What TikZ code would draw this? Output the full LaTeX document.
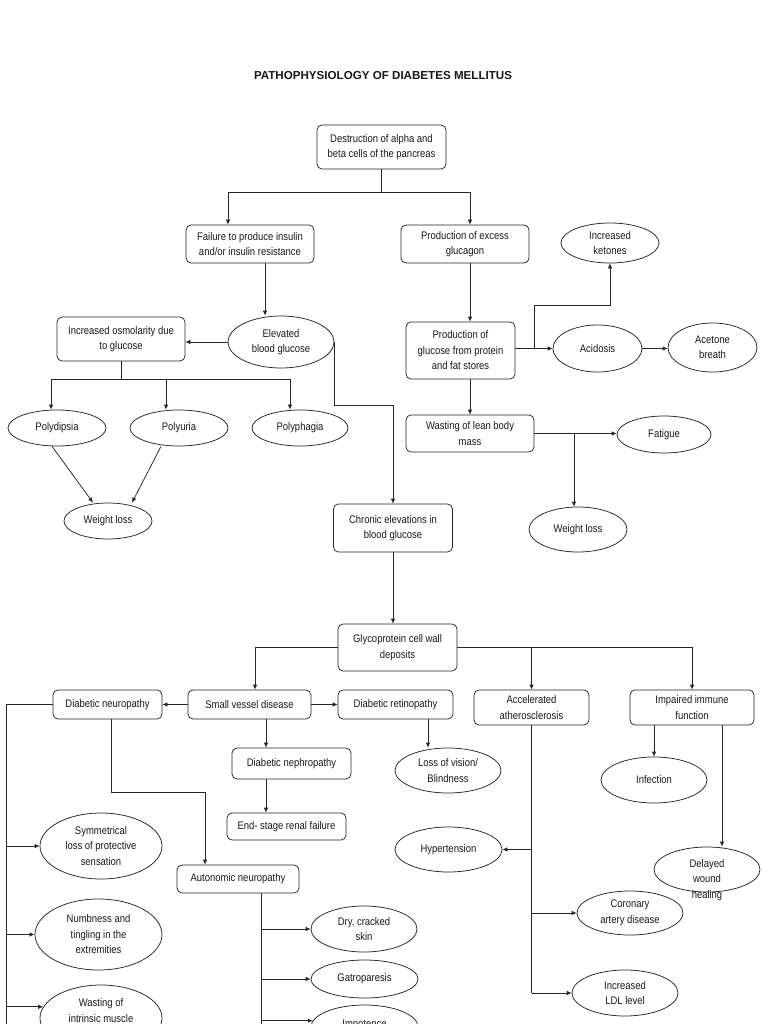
\documentclass[tikz,border=0pt]{standalone}
\usepackage{fontspec}
\setmainfont{Liberation Sans}[FakeStretch=0.86]
\newfontfamily\titlefont{Liberation Sans}
\usetikzlibrary{shapes.geometric,arrows.meta,calc}
\begin{document}
\begin{tikzpicture}[x=1pt,y=-1pt,
  every node/.style={text=black!90},
  txt/.style={font=\fontsize{11}{15.5}\selectfont, align=center},
  box/.style={txt, draw=black!85, line width=0.75pt, rounded corners=5pt, inner sep=2pt},
  ell/.style={txt, draw=black!85, line width=0.75pt, ellipse, inner sep=-4pt},
  ln/.style={draw=black!85, line width=0.75pt},
  arr/.style={ln, -{Latex[length=5pt,width=4.5pt]}}
]
\useasboundingbox (0,0) rectangle (768,1024);
\fill[white] (0,0) rectangle (768,1024);

\node[font=\titlefont\fontsize{11.6}{14}\selectfont\bfseries] (title) at (383,76) {PATHOPHYSIOLOGY OF DIABETES MELLITUS};

% boxes
\node[box, minimum width=129, minimum height=44] (n1) at (381.5,147) {Destruction of alpha and\\beta cells of the pancreas};
\node[box, minimum width=128, minimum height=38] (n2) at (250,244) {Failure to produce insulin\\and/or insulin resistance};
\node[box, minimum width=128, minimum height=38] (n3) at (465,244) {Production of excess\\glucagon};
\node[ell, minimum width=106, minimum height=52] (elev) at (281,342) {Elevated\\blood glucose};
\node[box, minimum width=128, minimum height=44] (n4) at (121,339) {Increased osmolarity due\\to glucose};
\node[ell, minimum width=98, minimum height=36] (pd) at (57,428) {Polydipsia};
\node[ell, minimum width=98, minimum height=36] (pu) at (179,428) {Polyuria};
\node[ell, minimum width=96, minimum height=36] (pp) at (300,428) {Polyphagia};
\node[ell, minimum width=88, minimum height=36] (wl1) at (108,521) {Weight loss};
\node[box, minimum width=119, minimum height=48] (chr) at (393,528) {Chronic elevations in\\blood glucose};

\node[box, minimum width=109, minimum height=57] (n5) at (460.5,350.5) {Production of\\glucose from protein\\and fat stores};
\node[ell, minimum width=98, minimum height=40] (ket) at (610,243) {Increased\\ketones};
\node[ell, minimum width=89, minimum height=47] (acid) at (597.5,348.5) {Acidosis};
\node[ell, minimum width=89, minimum height=49] (acet) at (712.5,347.5) {Acetone\\breath};
\node[box, minimum width=128, minimum height=37] (wlb) at (470,433.5) {Wasting of lean body\\mass};
\node[ell, minimum width=94, minimum height=37] (fat) at (664,434.5) {Fatigue};
\node[ell, minimum width=98, minimum height=45] (wl2) at (578,529.5) {Weight loss};

\node[box, minimum width=119, minimum height=47] (gly) at (397.5,647.5) {Glycoprotein cell wall\\deposits};
\node[box, minimum width=123, minimum height=29] (svd) at (249.5,704.5) {Small vessel disease};
\node[box, minimum width=109, minimum height=29] (neu) at (107.5,704.5) {Diabetic neuropathy};
\node[box, minimum width=115, minimum height=29] (ret) at (395.5,704.5) {Diabetic retinopathy};
\node[box, minimum width=115, minimum height=35] (ath) at (531.5,707.5) {Accelerated\\atherosclerosis};
\node[box, minimum width=124, minimum height=35] (imm) at (692,707.5) {Impaired immune\\function};
\node[box, minimum width=119, minimum height=31] (nep) at (291.5,763.5) {Diabetic nephropathy};
\node[box, minimum width=119, minimum height=27] (esr) at (286.5,826.5) {End- stage renal failure};
\node[ell, minimum width=106, minimum height=45] (lov) at (448,770.5) {Loss of vision/\\Blindness};
\node[ell, minimum width=106, minimum height=46] (inf) at (654,780) {Infection};
\node[ell, minimum width=106, minimum height=45] (del) at (707,869.5) {};
\node[txt] (deltxt) at (707,880) {Delayed\\wound\\healing};
\node[ell, minimum width=107, minimum height=45] (hyp) at (448.5,849.5) {Hypertension};
\node[ell, minimum width=106, minimum height=44] (cad) at (630,913) {Coronary\\artery disease};
\node[ell, minimum width=106, minimum height=46] (ldl) at (625,993) {Increased\\LDL level};

\node[ell, minimum width=122, minimum height=66] (sym) at (101,846) {Symmetrical\\loss of protective\\sensation};
\node[ell, minimum width=127, minimum height=71] (num) at (98.5,934.5) {Numbness and\\tingling in the\\extremities};
\node[ell, minimum width=122, minimum height=66] (was) at (101,1018) {};
\node[txt] (wastxt) at (101,1010.5) {Wasting of\\intrinsic muscle};
\node[box, minimum width=122, minimum height=28] (aut) at (238,879) {Autonomic neuropathy};
\node[ell, minimum width=106, minimum height=46] (dry) at (364,929) {Dry, cracked\\skin};
\node[ell, minimum width=107, minimum height=38] (gas) at (364.5,979) {Gatroparesis};
\node[ell, minimum width=107, minimum height=44] (imp) at (364.5,1027) {};
\node[txt] (imptxt) at (364.5,1025) {Impotence};

% connectors
\coordinate (b1) at ($(n1.south)+(0,23)$);
\draw[ln] (n1.south) -- (b1);
\draw[arr] (b1) -| ([xshift=-22pt]n2.north);
\draw[arr] (b1) -| ([xshift=5pt]n3.north);
\draw[arr] ([xshift=15pt]n2.south) -- ([xshift=15pt]n2.south |- elev.north);
\draw[arr] (elev.west) -- (elev.west -| n4.east);
\coordinate (b2) at ($(n4.south)+(0,18)$);
\draw[ln] (n4.south) -- (b2);
\draw[arr] (b2) -| ([xshift=-6pt]pd.north);
\draw[arr] (b2) -| ([xshift=-13pt]pu.north);
\draw[arr] (b2) -| ([xshift=-10pt]pp.north);
\draw[arr] ([xshift=-5pt]pd.south) -- ([xshift=-15pt]wl1.north);
\draw[arr] ([xshift=-18pt]pu.south) -- ([xshift=24pt]wl1.north);
\coordinate (b3) at ($(elev.east)+(0,63)$);
\draw[arr] (elev.east) -- (b3) -| (chr.north);
\draw[arr] (chr.south) -- (chr.south |- gly.north);

\draw[arr] ([xshift=5pt]n3.south) -- ([xshift=5pt]n3.south |- n5.north);
\coordinate (b6) at (n5.east |- acid.west);
\draw[arr] (b6) -- (acid.west);
\draw[arr] ($(b6)+(19,0)$) -- ++(0,-43) -| (ket.south);
\draw[arr] (acid.east) -- (acid.east -| acet.west);
\draw[arr] (wlb.north |- n5.south) -- (wlb.north);
\draw[arr] (wlb.east) -- (wlb.east -| fat.west);
\draw[arr] ([xshift=-4pt]wlb.east -| wl2.north) -- ([xshift=-4pt]wl2.north);

\draw[arr] (gly.west) -| ([xshift=5.5pt]svd.north);
\draw[arr] (gly.east) -| (imm.north);
\draw[arr] (gly.east -| ath.north) -- (ath.north);
\draw[arr] (svd.west) -- (neu.east);
\draw[arr] (svd.east) -- (ret.west);
\draw[arr] ([xshift=16.5pt]svd.south) -- ([xshift=16.5pt]svd.south |- nep.north);
\draw[arr] ([xshift=-25.5pt]nep.south) -- ([xshift=-25.5pt]nep.south |- esr.north);
\draw[arr] ([xshift=32.5pt]ret.south) -- ([xshift=32.5pt]ret.south |- lov.north);
\draw[arr] (imm.south -| inf.north) -- (inf.north);
\draw[arr] ([xshift=30pt]imm.south) -- ([xshift=30pt]imm.south |- del.north);

\draw[ln] (ath.south) -- (ath.south |- ldl.west);
\draw[arr] (ath.south |- hyp.east) -- (hyp.east);
\draw[arr] (ath.south |- cad.west) -- (cad.west);
\draw[arr] (ath.south |- ldl.west) -- (ldl.west);

\coordinate (lt) at ($(neu.west)+(-46,350)$);
\draw[ln] (neu.west) -| (lt);
\draw[arr] (lt |- sym.west) -- (sym.west);
\draw[arr] (lt |- num.west) -- (num.west);
\draw[arr] (lt |- was.169) -- (was.169);
\draw[arr] ([xshift=3.5pt]neu.south) -- ++(0,73) -| ([xshift=-33pt]aut.north);
\coordinate (at) at ([xshift=23pt]aut.south);
\draw[ln] (at) -- ++(0,180);
\draw[arr] (at |- dry.west) -- (dry.west);
\draw[arr] (at |- gas.west) -- (gas.west);
\draw[arr] (at |- imp.173) -- (imp.173);
\end{tikzpicture}
\end{document}
